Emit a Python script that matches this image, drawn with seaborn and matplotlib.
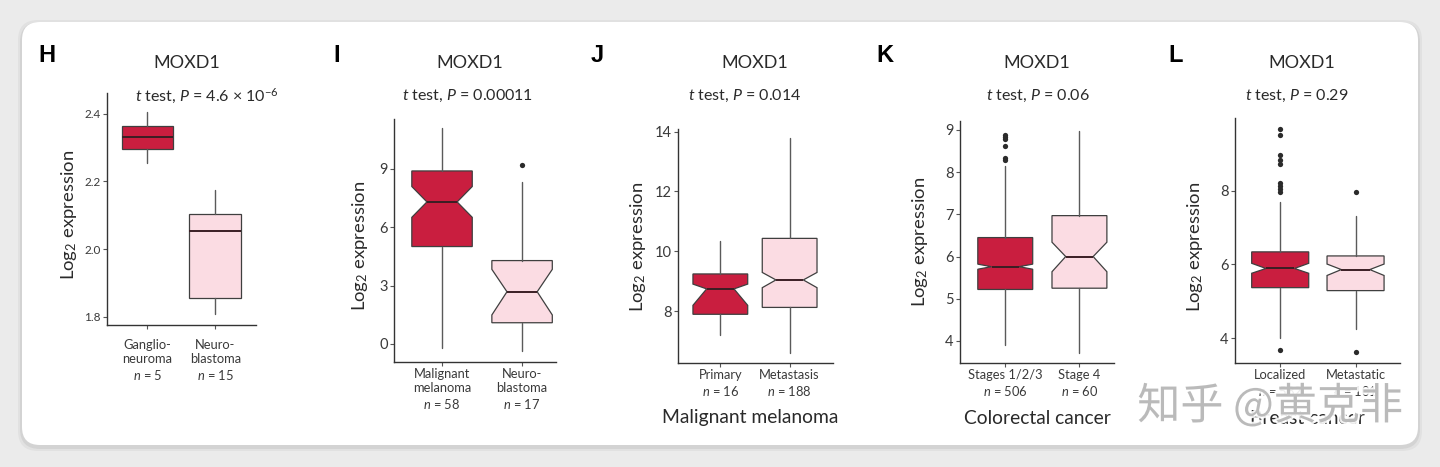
import matplotlib
matplotlib.use("Agg")
import matplotlib.pyplot as plt
import matplotlib.patheffects as pe
from matplotlib.patches import FancyBboxPatch
from matplotlib.transforms import IdentityTransform
import seaborn as sns

# ---- data (per group: whisker low, q1, median, q3, whisker high)
h_groups = ["Ganglio-\nneuroma\n$n$ = 5", "Neuro-\nblastoma\n$n$ = 15"]
h_box = [[2.254, 2.297, 2.330, 2.365, 2.404], [1.808, 1.857, 2.053, 2.103, 2.175]]
h_notch = [None, None]
h_fliers = [[], []]

i_groups = ["Malignant\nmelanoma\n$n$ = 58", "Neuro-\nblastoma\n$n$ = 17"]
i_box = [[-0.19, 5.00, 7.29, 8.88, 11.07], [-0.36, 1.09, 2.68, 4.28, 8.33]]
i_notch = [[6.50, 8.08], [1.49, 3.83]]
i_fliers = [[], [9.19]]

j_groups = ["Primary\n$n$ = 16", "Metastasis\n$n$ = 188"]
j_box = [[7.20, 7.89, 8.74, 9.24, 10.35], [6.61, 8.12, 9.04, 10.43, 13.80]]
j_notch = [[8.19, 8.90], [8.78, 9.29]]
j_fliers = [[], []]

k_groups = ["Stages 1/2/3\n$n$ = 506", "Stage 4\n$n$ = 60"]
k_box = [[3.91, 5.22, 5.76, 6.45, 8.15], [3.72, 5.25, 6.00, 6.97, 8.98]]
k_notch = [[5.70, 5.82], [5.64, 6.34]]
k_fliers = [[8.87, 8.83, 8.79, 8.62, 8.33, 8.28], []]

l_groups = ["Localized\n$n$ = 582", "Metastatic\n$n$ = 101"]
l_box = [[4.00, 5.37, 5.89, 6.34, 7.70], [4.25, 5.29, 5.86, 6.23, 7.32]]
l_notch = [[5.76, 6.03], [5.70, 6.01]]
l_fliers = [[9.67, 9.50, 8.96, 8.83, 8.71, 8.22, 8.13, 8.05, 7.95, 3.67], [7.95, 3.62]]

p_values = ["4.6 × 10$^{-6}$", "0.00011", "0.014", "0.06", "0.29"]
panel_letters = ["H", "I", "J", "K", "L"]
cancer_types = [None, None, "Malignant melanoma", "Colorectal cancer", "Breast cancer"]

RED = "#C91E3F"
PINK = "#FBDCE3"
W, H = 1440, 467

sns.set_theme(style="ticks")
plt.rcParams["font.family"] = ["Lato", "DejaVu Sans"]
plt.rcParams["mathtext.fontset"] = "custom"
plt.rcParams["mathtext.rm"] = "Lato"
plt.rcParams["mathtext.it"] = "Lato:italic"
plt.rcParams["text.color"] = "#2a2a2a"

fig = plt.figure(figsize=(W / 100, H / 100), dpi=100, facecolor="#ebebeb")

# white card with a soft shadow
for grow, alpha in [(4, 0.04), (2, 0.06)]:
    fig.add_artist(FancyBboxPatch((22 - grow, H - 445 - grow - 2), 1396 + 2 * grow, 423 + 2 * grow,
                                  boxstyle="round,pad=0,rounding_size=20", transform=IdentityTransform(),
                                  facecolor="black", edgecolor="none", alpha=alpha, zorder=0))
fig.add_artist(FancyBboxPatch((22, H - 445), 1396, 423, boxstyle="round,pad=0,rounding_size=18",
                              transform=IdentityTransform(), facecolor="white", edgecolor="none", zorder=0))


def px(x, y):
    return x / W, 1 - y / H


def draw_panel(rect, groups, box, notch, fliers, ylim, xlim, yticks, fmt, width, xpad, ytick_size):
    x0, x1, ytop, ybot = rect
    ax = fig.add_axes([x0 / W, 1 - ybot / H, (x1 - x0) / W, (ybot - ytop) / H])
    ax.set_facecolor("none")
    stats = []
    for b, nt, fl in zip(box, notch, fliers):
        s = dict(whislo=b[0], q1=b[1], med=b[2], q3=b[3], whishi=b[4], fliers=fl)
        if nt is not None:
            s["cilo"], s["cihi"] = nt
        stats.append(s)
    parts = ax.bxp(stats, positions=[0, 1], widths=width, patch_artist=True,
                   shownotches=notch[0] is not None, showcaps=False,
                   boxprops=dict(edgecolor="#3f3f3f", linewidth=0.9),
                   whiskerprops=dict(color="#5a5a5a", linewidth=1.0),
                   medianprops=dict(color="#3a1e24", linewidth=1.4),
                   flierprops=dict(marker="o", markersize=3.8, markerfacecolor="#2b2b2b",
                                   markeredgewidth=0))
    for patch, c in zip(parts["boxes"], [RED, PINK]):
        patch.set_facecolor(c)
    ax.set_xlim(*xlim)
    ax.set_ylim(*ylim)
    ax.set_yticks(yticks)
    ax.set_yticklabels([fmt.format(t) for t in yticks], fontsize=ytick_size, color="#3a3a3a")
    ax.set_xticks([0, 1])
    ax.set_xticklabels(groups, fontsize=9.3, color="#3a3a3a", linespacing=1.25)
    ax.tick_params(axis="y", length=3, width=0.8, color="#555555", pad=1.5)
    ax.tick_params(axis="x", length=3, width=0.8, color="#555555", pad=xpad)
    for sp in ["left", "bottom"]:
        ax.spines[sp].set_color("#333333")
        ax.spines[sp].set_linewidth(1.0)
    sns.despine(ax=ax)
    return ax


rects = [(106.7, 256, 93, 325), (394, 555.7, 119.3, 362.3), (677.7, 833.3, 129, 363.3),
         (960, 1114.3, 120.7, 363.3), (1235, 1400, 118.3, 363.3)]
draw_panel(rects[0], h_groups, h_box, h_notch, h_fliers, (1.776, 2.461), (-0.6, 1.6),
           [1.8, 2.0, 2.2, 2.4], "{:.1f}", 0.76, 7, 8.5)
draw_panel(rects[1], i_groups, i_box, i_notch, i_fliers, (-0.94, 11.53), (-0.6, 1.42),
           [0, 3, 6, 9], "{:g}", 0.755, 1, 10.5)
draw_panel(rects[2], j_groups, j_box, j_notch, j_fliers, (6.25, 14.09), (-0.615, 1.63),
           [8, 10, 12, 14], "{:g}", 0.79, 1, 10.5)
draw_panel(rects[3], k_groups, k_box, k_notch, k_fliers, (3.47, 9.22), (-0.61, 1.47),
           [4, 5, 6, 7, 8, 9], "{:g}", 0.74, 1, 10.5)
draw_panel(rects[4], l_groups, l_box, l_notch, l_fliers, (3.32, 9.96), (-0.60, 1.59),
           [4, 6, 8], "{:g}", 0.757, 1, 10.5)

# panel texts
letter_pos = [(47, 55), (337, 55), (597, 55), (885, 55), (1176, 55)]
title_pos = [(187, 63), (470, 63), (755, 63), (1037, 63), (1302, 63)]
sub_pos = [(207, 96), (468, 96), (745, 96), (1038, 96), (1297, 96)]
ylab_pos = [(69, 215), (360, 246), (638, 247), (920, 242), (1195, 247)]
bottom_pos = [None, None, (750, 418), (1037, 418), (1307, 418)]

for k in range(5):
    fig.text(*px(*letter_pos[k]), panel_letters[k], fontsize=17, fontweight="bold",
             family="Liberation Sans", color="black", ha="center", va="center")
    fig.text(*px(*title_pos[k]), "MOXD1", fontsize=13, ha="center", va="center")
    fig.text(*px(*sub_pos[k]), "$\\it{t}$ test, $\\it{P}$ = " + p_values[k], fontsize=11.5,
             ha="center", va="center")
    fig.text(*px(*ylab_pos[k]), "Log$_2$ expression", fontsize=13.3, rotation=90,
             ha="center", va="center")
    if cancer_types[k]:
        fig.text(*px(*bottom_pos[k]), cancer_types[k], fontsize=13.9, ha="center", va="center")

# watermark
fig.text(*px(1270, 407), "知乎 @黄克非", fontsize=31, family=["Noto Sans CJK SC", "DejaVu Sans"],
         color="#b4b4b4", ha="center", va="center", alpha=0.9,
         path_effects=[pe.withStroke(linewidth=3, foreground="white")])

fig.savefig("out.png", dpi=100, facecolor=fig.get_facecolor())
